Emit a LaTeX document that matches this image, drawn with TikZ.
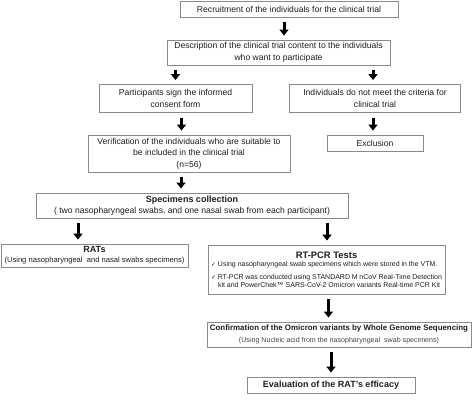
\documentclass[tikz,border=0pt]{standalone}
\usepackage{fontspec}
\setmainfont{Liberation Sans}
\newfontfamily\symfont{DejaVu Sans}
\usetikzlibrary{arrows.meta}
\definecolor{boxline}{HTML}{8A8A8A}
\definecolor{txt}{HTML}{1E1E1E}
\definecolor{subtxt}{HTML}{444444}
\newcommand{\ck}{{\symfont\fontsize{6}{7}\selectfont ✓}\ }
\tikzset{
  box/.style={draw=boxline, line width=0.9pt, fill=white, inner sep=1pt, align=center, text=txt,
    font=\fontsize{8.6}{11.6}\selectfont},
  bigarrow/.style={line width=3pt, -{Triangle[length=6pt,width=9pt]}, draw=black, shorten <=5pt, shorten >=4pt},
}
\begin{document}
\begin{tikzpicture}[x=1pt,y=-1pt]
\useasboundingbox (0,0) rectangle (474,405);
\node[box, minimum width=218, minimum height=16] (b1) at (289,9) {Recruitment of the individuals for the clinical trial};
\node[box, minimum width=223, minimum height=25] (b2) at (278.5,52.5) {Description of the clinical trial content to the individuals\\who want to participate};
\node[box, minimum width=153, minimum height=28] (b3) at (175.5,98.5) {Participants sign the informed\\consent form};
\node[box, minimum width=171, minimum height=28] (b4) at (375,98.5) {Individuals do not meet the criteria for\\clinical trial};
\node[box, minimum width=202, minimum height=37] (b5) at (189,153.5) {Verification of the individuals who are suitable to\\be included in the clinical trial\\(n=56)};
\node[box, minimum width=96, minimum height=16] (b6) at (375,143) {Exclusion};
\node[box, minimum width=312, minimum height=25] (b7) at (192,205.5) {{\fontsize{9}{11}\bfseries Specimens collection}\\( two nasopharyngeal swabs, and one nasal swab from each participant)};
\node[box, minimum width=187, minimum height=23, font=\fontsize{7.6}{10}\selectfont] (b8) at (94.5,255.5) {{\fontsize{9}{10}\bfseries RATs}\\(Using nasopharyngeal\ \ and nasal swabs specimens)};
\node[box, minimum width=237, minimum height=49, text width=231, align=none, inner sep=3pt] (b9) at (326.5,269.5)
 {\leftskip=0pt plus 1fil\rightskip=0pt plus 1fil\parfillskip=0pt\parindent=0pt
  {\fontsize{9.4}{10}\bfseries RT-PCR Tests}\par
  \leftskip=0pt\rightskip=0pt plus 1fil\parfillskip=0pt plus 1fil
  \fontsize{7}{8}\selectfont
  \hangindent=7pt\hangafter=1 \ck Using nasopharyngeal swab specimens which were stored in the VTM.\par
  \vspace{5pt}
  \hangindent=7pt\hangafter=1 \ck RT-PCR was conducted using STANDARD M nCoV Real-Time Detection\\kit and PowerChek™ SARS-CoV-2 Omicron variants Real-time PCR Kit\par};
\node[box, minimum width=264, minimum height=25] (b10) at (339,334.5) {{\fontsize{7.9}{11}\bfseries Confirmation of the Omicron variants by Whole Genome Sequencing}\\{\color{subtxt}\fontsize{7.1}{9}\selectfont (Using Nucleic acid from the nasopharyngeal\ \ swab specimens)}};
\node[box, minimum width=168, minimum height=16] (b11) at (331,385) {{\fontsize{9}{10}\bfseries Evaluation of the RAT's efficacy}};

\draw[bigarrow] ([xshift=-5pt]b1.south) -- ([xshift=-5pt]b1.south |- b2.north);
\draw[bigarrow] (b2.south -| b3.north) -- (b3.north);
\draw[bigarrow] ([xshift=-2pt]b2.south -| b4.north) -- ([xshift=-2pt]b4.north);
\draw[bigarrow] ([xshift=6pt]b3.south) -- ([xshift=6pt]b3.south |- b5.north);
\draw[bigarrow] ([xshift=-2pt]b4.south) -- ([xshift=-2pt]b6.north);
\draw[bigarrow] ([xshift=-8pt]b5.south) -- ([xshift=-8pt]b5.south |- b7.north);
\draw[bigarrow] ([xshift=-114pt]b7.south) -- ([xshift=-114pt]b7.south |- b8.north);
\draw[bigarrow] ([xshift=135pt]b7.south) -- ([xshift=135pt]b7.south |- b9.north);
\draw[bigarrow] ([xshift=2pt]b9.south) -- ([xshift=2pt]b9.south |- b10.north);
\draw[bigarrow] ([xshift=-8pt]b10.south) -- ([xshift=-8pt]b10.south |- b11.north);
\end{tikzpicture}
\end{document}
